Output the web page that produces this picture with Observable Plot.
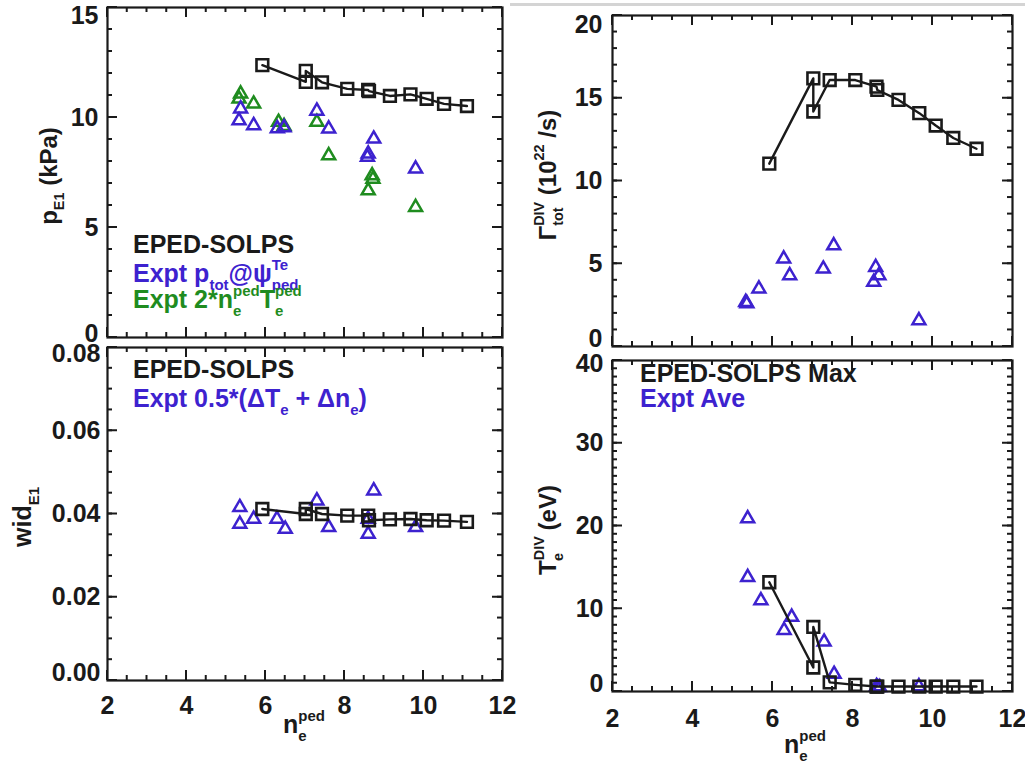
<!DOCTYPE html>
<html><head><meta charset="utf-8">
<script src="https://cdn.jsdelivr.net/npm/d3@7"></script>
<script src="https://cdn.jsdelivr.net/npm/@observablehq/plot@0.6"></script>
<style>
body{margin:0;background:#fff;}
#root{position:relative;width:1025px;height:771px;overflow:hidden;background:#fff;}
.panel{position:absolute;}
.panel svg{overflow:visible;}
#topline{position:absolute;left:510px;top:3px;width:515px;height:3px;background:#d4d4d4;}
</style></head><body><div id="root"><div id="topline"></div></div>
<script>
// ---------- data ----------
// EPED-SOLPS simulation points (n_e^ped), in drawing order
const simX     = [5.92, 7.02, 7.02, 7.43, 8.07, 8.60, 8.62, 9.15, 9.67, 10.08, 10.52, 11.10];
const simP     = [12.38, 11.62, 12.12, 11.60, 11.30, 11.25, 11.20, 10.98, 11.05, 10.85, 10.62, 10.52];
const simGamma = [11.05, 16.20, 14.20, 16.10, 16.10, 15.70, 15.50, 14.90, 14.10, 13.35, 12.60, 11.95];
const simWid   = [0.0412, 0.0400, 0.0412, 0.0400, 0.0396, 0.0396, 0.0385, 0.0387, 0.0388, 0.0385, 0.0384, 0.0381];
const simTe    = [13.2, 2.9, 7.8, 1.1, 0.8, 0.6, 0.6, 0.6, 0.6, 0.6, 0.6, 0.6];

// Experimental points (n_e^ped)
const expX      = [5.37, 5.33, 5.70, 6.30, 6.47, 7.30, 7.60, 8.60, 8.58, 8.74, 9.80];
const expPtot   = [10.40, 9.86, 9.64, 9.50, 9.55, 10.30, 9.49, 8.35, 8.20, 9.03, 7.67];
const expGX     = [5.37, 5.33, 5.70, 6.33, 6.47, 7.30, 7.60, 8.70, 8.72, 8.60, 9.80];
const expP2nT   = [11.08, 10.85, 10.62, 9.79, 9.60, 9.79, 8.27, 7.36, 7.20, 6.68, 5.92];
const expGX2    = [5.33, 5.36, 5.66, 6.28, 6.43, 7.27, 7.53, 8.58, 8.66, 8.53, 9.66];
const expGamma  = [2.68, 2.60, 3.49, 5.30, 4.29, 4.69, 6.10, 4.79, 4.29, 3.89, 1.57];
const expWX     = [5.35, 5.35, 5.70, 6.29, 6.50, 7.30, 7.60, 8.74, 8.60, 8.60, 9.80];
const expWid    = [0.0416, 0.0376, 0.0388, 0.0388, 0.0364, 0.0432, 0.0368, 0.0456, 0.0388, 0.0352, 0.0368];
const expTX     = [5.38, 5.38, 5.71, 6.29, 6.48, 7.29, 7.54, 8.63, 8.60, 8.68, 9.66];
const expTe     = [20.9, 13.8, 11.0, 7.4, 9.0, 6.0, 2.1, 0.5, 0.6, 0.5, 0.6];

// axis ticks
const xTicks = [2, 4, 6, 8, 10, 12];
const xMinor = d3.range(2, 12.001, 0.5);
const yTicksP = [0, 5, 10, 15],              yMinorP = d3.range(0, 15.001, 1);
const yTicksG = [0, 5, 10, 15, 20],          yMinorG = d3.range(0, 20.001, 1);
const yTicksW = [0, 0.02, 0.04, 0.06, 0.08], yMinorW = d3.range(0, 0.0801, 0.005);
const yTicksT = [0, 10, 20, 30, 40],         yMinorT = d3.range(0, 40.001, 1);

// ---------- style ----------
const BLUE = "#3d22cf", GREEN = "#1f8c1f", INK = "#1a1a1a";
const FONT = '"Liberation Sans", Arial, Helvetica, sans-serif';

const rows = (xs, ys) => xs.map((x, i) => ({x, y: ys[i]}));

function simMarks(ys) {
  const d = rows(simX, ys);
  return [
    Plot.line(d, {x: "x", y: "y", stroke: INK, strokeWidth: 2.4}),
    Plot.dot(d, {x: "x", y: "y", symbol: "square", r: 6.6, stroke: INK, strokeWidth: 2.6, fill: "none"})
  ];
}
function expMarks(xs, ys, color) {
  return [Plot.dot(rows(xs, ys), {x: "x", y: "y", symbol: "triangle", r: 4.8, stroke: color, strokeWidth: 2.5, fill: "none"})];
}

const root = document.getElementById("root");

// inward IDL-style ticks on all four frame sides, placed with Plot's own scales
function addFrameTicks(svg, yMaj, yMin) {
  const sx = svg.scale("x"), sy = svg.scale("y");
  const [x0, x1] = sx.range, yr = sy.range;
  const yb = Math.max(...yr), yt = Math.min(...yr);
  const g = d3.select(svg).append("g").attr("stroke", INK).attr("stroke-width", 2);
  const L = 10, S = 5;
  const xt = (vals, len) => vals.forEach(v => {
    const px = sx.apply(v);
    g.append("line").attr("x1", px).attr("x2", px).attr("y1", yb).attr("y2", yb - len);
    g.append("line").attr("x1", px).attr("x2", px).attr("y1", yt).attr("y2", yt + len);
  });
  const yt2 = (vals, len) => vals.forEach(v => {
    const py = sy.apply(v);
    g.append("line").attr("y1", py).attr("y2", py).attr("x1", x0).attr("x2", x0 + len);
    g.append("line").attr("y1", py).attr("y2", py).attr("x1", x1).attr("x2", x1 - len);
  });
  xt(xMinor, S); xt(xTicks, L); yt2(yMin, S); yt2(yMaj, L);
}

function panel(o) {
  const ax = {tickSize: 0, tickPadding: o.yPad, tickFormat: o.yFmt, fontSize: 25, fontWeight: "bold", label: null};
  const svg = Plot.plot({
    width: o.width, height: o.height,
    marginTop: o.mt, marginBottom: o.mb, marginLeft: o.ml, marginRight: o.mr,
    x: {domain: [2, 12], axis: null},
    y: {domain: o.ydom, axis: null},
    style: {fontFamily: FONT, color: INK, background: "transparent", overflow: "visible"},
    marks: [
      ...o.marks,
      Plot.frame({stroke: INK, strokeWidth: 2.2}),
      Plot.axisY({...ax, ticks: o.yMaj.slice(1, -1)}),
      Plot.axisY({...ax, ticks: o.yMaj.slice(-1), dy: o.topDy}),
      Plot.axisY({...ax, ticks: o.yMaj.slice(0, 1), dy: o.botDy}),
      o.xLabels ? Plot.axisX({ticks: xTicks, tickSize: 0, tickPadding: o.xPad, tickFormat: d => String(d), fontSize: 25, fontWeight: "bold", label: null}) : null
    ]
  });
  const div = document.createElement("div");
  div.className = "panel";
  div.style.left = o.left + "px";
  div.style.top = o.top + "px";
  div.appendChild(svg);
  root.appendChild(div);
  addFrameTicks(svg, o.yMaj, o.yMin);
  return svg;
}

// rich text with sub/superscripts; parts: strings or {sub, sup}
function richText(svg, {x, y, rotate = 0, anchor = "start", size = 25, fill = INK, parts}) {
  const t = d3.select(svg).append("text")
    .attr("font-family", FONT).attr("font-weight", "bold")
    .attr("font-size", size).attr("fill", fill).attr("text-anchor", anchor)
    .attr("transform", `translate(${x},${y}) rotate(${rotate})`);
  const small = size * 0.6, subS = size * 0.3, supS = -size * 0.48;
  let cur = 0, pend = 0;
  for (const p of parts) {
    if (typeof p === "string") {
      t.append("tspan").attr("font-size", size).attr("dy", -cur).attr("dx", pend).text(p);
      cur = 0; pend = 0;
    } else if (p.sub != null && p.sup != null) {
      const a = t.append("tspan").attr("font-size", small).attr("dy", supS - cur).attr("dx", pend).text(p.sup);
      cur = supS; pend = 0;
      const wa = a.node().getComputedTextLength();
      const b = t.append("tspan").attr("font-size", small).attr("dy", subS - cur).attr("dx", -wa).text(p.sub);
      cur = subS;
      const wb = b.node().getComputedTextLength();
      pend = Math.max(0, wa - wb);
    } else if (p.sub != null) {
      t.append("tspan").attr("font-size", small).attr("dy", subS - cur).attr("dx", pend).text(p.sub);
      cur = subS; pend = 0;
    } else {
      t.append("tspan").attr("font-size", small).attr("dy", supS - cur).attr("dx", pend).text(p.sup);
      cur = supS; pend = 0;
    }
  }
  return t;
}

// ---------- top-left: p_E1 ----------
const sTL = panel({left: 0, top: 0, width: 512, height: 345, mt: 7, mb: 8, ml: 107, mr: 10,
  ydom: [0, 15], yMaj: yTicksP, yMin: yMinorP, yFmt: d => String(d), yPad: 9, topDy: 8, botDy: -4, xLabels: false,
  marks: [...expMarks(expGX, expP2nT, GREEN), ...expMarks(expX, expPtot, BLUE), ...simMarks(simP)]});
richText(sTL, {x: 57, y: 176, rotate: -90, anchor: "middle", size: 24, parts: ["p", {sub: "E1"}, " (kPa)"]});
richText(sTL, {x: 133, y: 253, parts: ["EPED-SOLPS"]});
richText(sTL, {x: 133, y: 282, fill: BLUE, parts: ["Expt p", {sub: "tot"}, "@\u03c8", {sub: "ped", sup: "Te"}]});
richText(sTL, {x: 133, y: 308, fill: GREEN, parts: ["Expt 2*n", {sub: "e", sup: "ped"}, "T", {sub: "e", sup: "ped"}]});

// ---------- top-right: Gamma_tot^DIV ----------
const sTR = panel({left: 512, top: 0, width: 513, height: 355, mt: 15, mb: 9, ml: 100, mr: 13,
  ydom: [0, 20], yMaj: yTicksG, yMin: yMinorG, yFmt: d => String(d), yPad: 10, topDy: 9, botDy: -8, xLabels: false,
  marks: [...expMarks(expGX2, expGamma, BLUE), ...simMarks(simGamma)]});
richText(sTR, {x: 44, y: 175, rotate: -90, anchor: "middle", size: 24, parts: ["\u0393", {sub: "tot", sup: "DIV"}, " (10", {sup: "22"}, " /s)"]});

// ---------- bottom-left: wid_E1 ----------
const sBL = panel({left: 0, top: 340, width: 512, height: 431, mt: 7, mb: 91, ml: 107, mr: 10,
  ydom: [0, 0.08], yMaj: yTicksW, yMin: yMinorW, yFmt: d3.format(".2f"), yPad: 7, topDy: 6, botDy: -8, xLabels: true, xPad: 16,
  marks: [...expMarks(expWX, expWid, BLUE), ...simMarks(simWid)]});
richText(sBL, {x: 31, y: 177, rotate: -90, anchor: "middle", size: 25, parts: ["wid", {sub: "E1"}]});
richText(sBL, {x: 283, y: 393, size: 25, parts: ["n", {sub: "e", sup: "ped"}]});
richText(sBL, {x: 133, y: 38, parts: ["EPED-SOLPS"]});
richText(sBL, {x: 133, y: 67, fill: BLUE, parts: ["Expt 0.5*(\u0394T", {sub: "e"}, " + \u0394n", {sub: "e"}, ")"]});

// ---------- bottom-right: T_e^DIV ----------
const sBR = panel({left: 512, top: 355, width: 513, height: 416, mt: 5, mb: 80, ml: 100, mr: 13,
  ydom: [0, 40], yMaj: yTicksT, yMin: yMinorT, yFmt: d => String(d), yPad: 9, topDy: 3, botDy: -8, xLabels: true, xPad: 18,
  marks: [...expMarks(expTX, expTe, BLUE), ...simMarks(simTe)]});
richText(sBR, {x: 44, y: 175, rotate: -90, anchor: "middle", size: 24, parts: ["T", {sub: "e", sup: "DIV"}, " (eV)"]});
richText(sBR, {x: 272, y: 398, size: 25, parts: ["n", {sub: "e", sup: "ped"}]});
richText(sBR, {x: 128, y: 27, parts: ["EPED-SOLPS Max"]});
richText(sBR, {x: 128, y: 52, fill: BLUE, parts: ["Expt Ave"]});
</script></body></html>
